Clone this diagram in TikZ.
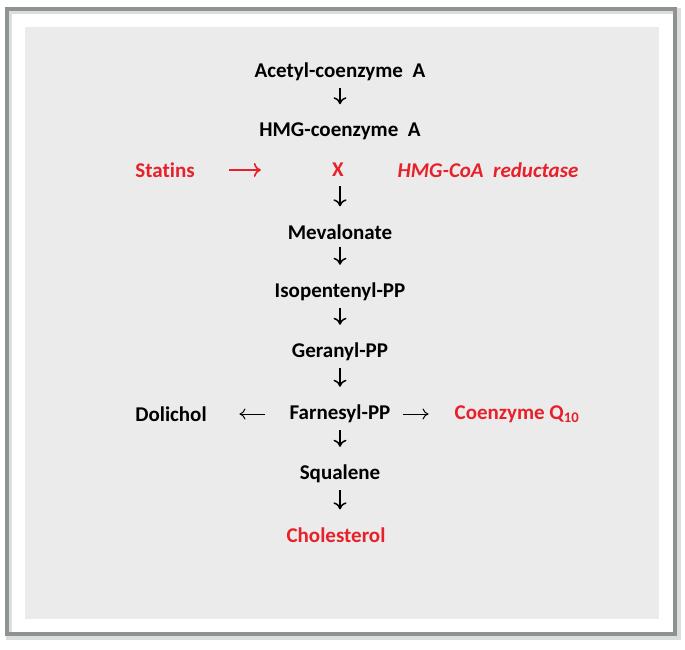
\documentclass[tikz,border=0pt]{standalone}
\usepackage{fontspec}
\setmainfont{Carlito}[Ligatures=NoCommon]
\usetikzlibrary{arrows.meta}
\definecolor{boxgray}{HTML}{EBEBEB}
\definecolor{framegray}{HTML}{8E9293}
\definecolor{pathred}{HTML}{E8202A}
\tikzset{
  mol/.style={font=\bfseries\fontsize{21}{24}\selectfont, text=black, inner sep=0pt, anchor=center},
  redmol/.style={mol, text=pathred},
  step arrow/.style={-{To[length=7pt,width=13pt]}, line width=1.5pt, black},
  side arrow/.style={-{To[length=6pt,width=11pt]}, line width=1pt, black},
}
\begin{document}
\begin{tikzpicture}[x=1pt,y=-1pt]
\useasboundingbox (0,0) rectangle (685,649);
\fill[white] (0,0) rectangle (685,649);
% frame with shadow
\draw[line width=6pt, framegray!50, opacity=0.6] (9,11) rectangle (678,637);
\draw[line width=4.5pt, framegray] (7,9) rectangle (675,634);
\fill[boxgray] (25,27) rectangle (659,619);

\node[mol] (acetyl) at (340,72) {Acetyl-coenzyme\ \ A};
\node[mol] (hmg) at (340,131) {HMG-coenzyme\ \ A};
\node[redmol] (statins) at (165,170) {Statins};
\node[redmol] (x) at (338,170) {X};
\node[redmol, font=\bfseries\itshape\fontsize{21}{24}\selectfont] (red) at (488,170) {HMG-CoA\ \ reductase};
\node[mol] (meva) at (340,232) {Mevalonate};
\node[mol] (ipp) at (340,292) {Isopentenyl-PP};
\node[mol] (gpp) at (340,352) {Geranyl-PP};
\node[mol] (fpp) at (340,414) {Farnesyl-PP};
\node[mol] (doli) at (171,414) {Dolichol};
\node[redmol] (coq) at (517,414) {Coenzyme Q\textsubscript{10}};
\node[mol] (squa) at (340,474) {Squalene};
\node[redmol] (chol) at (336,535) {Cholesterol};

\draw[step arrow] ([yshift=-7pt]acetyl.south) -- ([yshift=18pt]hmg.north);
\draw[step arrow] ([yshift=-9pt]x.south -| meva.north) -- ([yshift=18pt]meva.north);
\draw[step arrow] ([yshift=-7pt]meva.south) -- ([yshift=18pt]ipp.north);
\draw[step arrow] ([yshift=-7pt]ipp.south) -- ([yshift=18pt]gpp.north);
\draw[step arrow] ([yshift=-7pt]gpp.south) -- ([yshift=18pt]fpp.north);
\draw[step arrow] ([yshift=-7pt]fpp.south) -- ([yshift=18pt]squa.north);
\draw[step arrow] ([yshift=-7pt]squa.south) -- ([yshift=18pt]chol.north -| squa.south);
\draw[side arrow, pathred, line width=1.6pt, -{To[length=7pt,width=14pt]}] (statins.east) ++(34pt,0) -- ++(32pt,0) coordinate (statinstip);
\draw[side arrow] (fpp.west) ++(-24pt,0) -- ++(-26pt,0) coordinate (dolitip);
\draw[side arrow] (fpp.east) ++(12pt,0) -- ++(26pt,0) coordinate (coqtip);
\end{tikzpicture}
\end{document}
